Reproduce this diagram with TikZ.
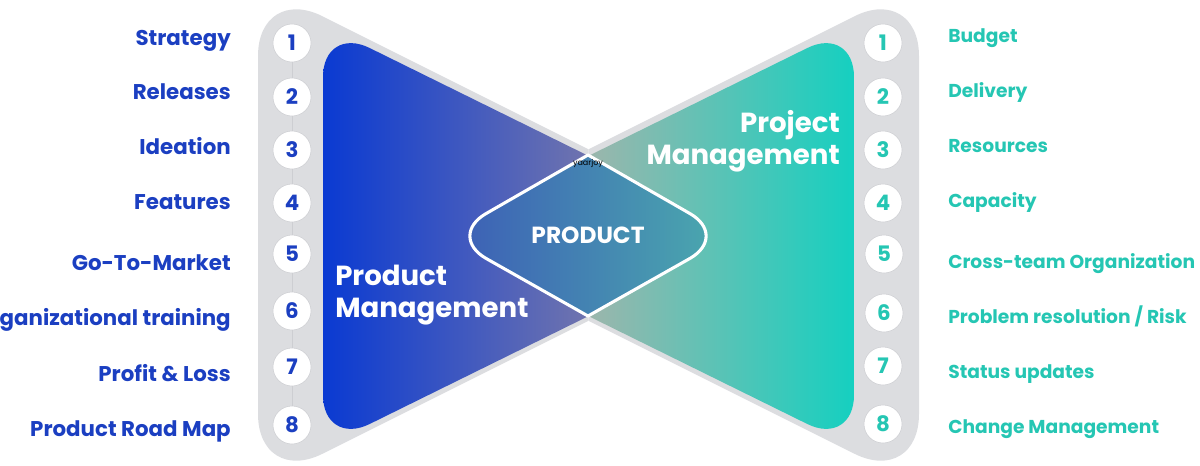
\documentclass[tikz,border=0pt]{standalone}
\usepackage{fontspec}
\setmainfont{Poppins}
\definecolor{pmblue}{HTML}{0A3AD2}
\definecolor{pmblueR}{HTML}{7074AE}
\definecolor{pjteal}{HTML}{15D0C0}
\definecolor{pjtealL}{HTML}{9CB6AC}
\definecolor{midL}{HTML}{3D61B6}
\definecolor{midR}{HTML}{4AA6AE}
\definecolor{graybg}{HTML}{DCDDE0}
\definecolor{txtblue}{HTML}{1B3FC1}
\definecolor{txtteal}{HTML}{25C6B3}
\definecolor{ringgray}{HTML}{CDCED2}
\tikzset{
  numbase/.style={circle, fill=white, draw=ringgray, line width=0.4pt, minimum size=28.5pt, inner sep=0pt, font=\bfseries\fontsize{16}{16}\selectfont},
  numL/.style={numbase, text=txtblue},
  numR/.style={numbase, text=txtteal},
  labL/.style={anchor=base east, inner sep=0pt, text=txtblue, font=\bfseries\fontsize{16}{16}\selectfont},
  labR/.style={anchor=base west, inner sep=0pt, text=txtteal, font=\bfseries\fontsize{14}{15}\selectfont},
  bigtitle/.style={inner sep=0pt, text=white, font=\bfseries\fontsize{20.7}{22}\selectfont},
  connL/.style={draw=ringgray, line width=0.6pt},
}
\begin{document}
\begin{tikzpicture}[x=0.75pt,y=-0.75pt]
\useasboundingbox (0,0) rectangle (1200,465);
% gray backgrounds
\begin{scope}
  \clip (0,-50) rectangle (588.5,520);
  \fill[graybg, rounded corners=54pt] (258,-16) -- (258,486) -- (760,235) -- cycle;
\end{scope}
\begin{scope}
  \clip (588.5,-50) rectangle (1250,520);
  \fill[graybg, rounded corners=54pt] (919,-16) -- (919,486) -- (417,235) -- cycle;
\end{scope}
% blue triangle
\begin{scope}
  \clip (0,-50) rectangle (588.5,520);
  \clip[rounded corners=39pt] (323,25) -- (323,447) -- (751,236) -- cycle;
  \shade[left color=pmblue, right color=pmblueR] (323,0) rectangle (588.5,465);
\end{scope}
% teal triangle
\begin{scope}
  \clip (588.5,-50) rectangle (1250,520);
  \clip[rounded corners=39pt] (854,25) -- (854,447) -- (426,236) -- cycle;
  \shade[left color=pjtealL, right color=pjteal] (588.5,0) rectangle (854,465);
\end{scope}
% central hexagon
\shadedraw[left color=midL, right color=midR, draw=white, line width=2.3pt, line join=round]
  (588,155) -- (486,213.6) .. controls (464.5,226) and (464.5,246) .. (486,258.4)
  -- (588,316) -- (690,258.4) .. controls (711.5,246) and (711.5,226) .. (690,213.6) -- cycle;
\node[inner sep=0pt, anchor=base, text=black, font=\fontsize{6}{6}\selectfont] (wm) at (588,165) {yaarjoy};
\node[inner sep=0pt, anchor=base, text=white, font=\bfseries\fontsize{17.5}{18}\selectfont] (prod) at (588,243) {PRODUCT};
% titles
\node[bigtitle, anchor=base west] (pm1) at (335,285) {Product};
\node[bigtitle, anchor=base west] (pm2) at (335,317) {Management};
\node[bigtitle, anchor=base east] (pj1) at (840,132) {Project};
\node[bigtitle, anchor=base east] (pj2) at (840,164) {Management};
% left numbers
\node[numL] (l1) at (292,43) {1};
\node[numL] (l2) at (292,97) {2};
\node[numL] (l3) at (292,150) {3};
\node[numL] (l4) at (292,203) {4};
\node[numL] (l5) at (292,254) {5};
\node[numL] (l6) at (292,311) {6};
\node[numL] (l7) at (292,367) {7};
\node[numL] (l8) at (292,425) {8};
\foreach \a/\b in {l1/l2,l2/l3,l3/l4,l4/l5,l5/l6,l6/l7,l7/l8} \draw[connL] (\a) -- (\b);
% right numbers
\node[numR] (r1) at (883,43) {1};
\node[numR] (r2) at (883,97) {2};
\node[numR] (r3) at (883,150) {3};
\node[numR] (r4) at (883,203) {4};
\node[numR] (r5) at (884,254) {5};
\node[numR] (r6) at (884,313) {6};
\node[numR] (r7) at (883,366) {7};
\node[numR] (r8) at (883,424) {8};
% left labels
\node[labL] (t1) at (231,45) {Strategy};
\node[labL] (t2) at (231,99) {Releases};
\node[labL] (t3) at (231,154) {Ideation};
\node[labL] (t4) at (231,209) {Features};
\node[labL] (t5) at (231,270) {Go-To-Market};
\node[labL] (t6) at (231,325) {Organizational training};
\node[labL] (t7) at (231,381) {Profit \& Loss};
\node[labL] (t8) at (231,436) {Product Road Map};
% right labels
\node[labR] (s1) at (948,42) {Budget};
\node[labR] (s2) at (948,97) {Delivery};
\node[labR] (s3) at (948,152) {Resources};
\node[labR] (s4) at (948,207) {Capacity};
\node[labR] (s5) at (948,268) {Cross-team Organization};
\node[labR] (s6) at (948,323) {Problem resolution / Risk};
\node[labR] (s7) at (948,378) {Status updates};
\node[labR] (s8) at (948,433) {Change Management};
\end{tikzpicture}
\end{document}
